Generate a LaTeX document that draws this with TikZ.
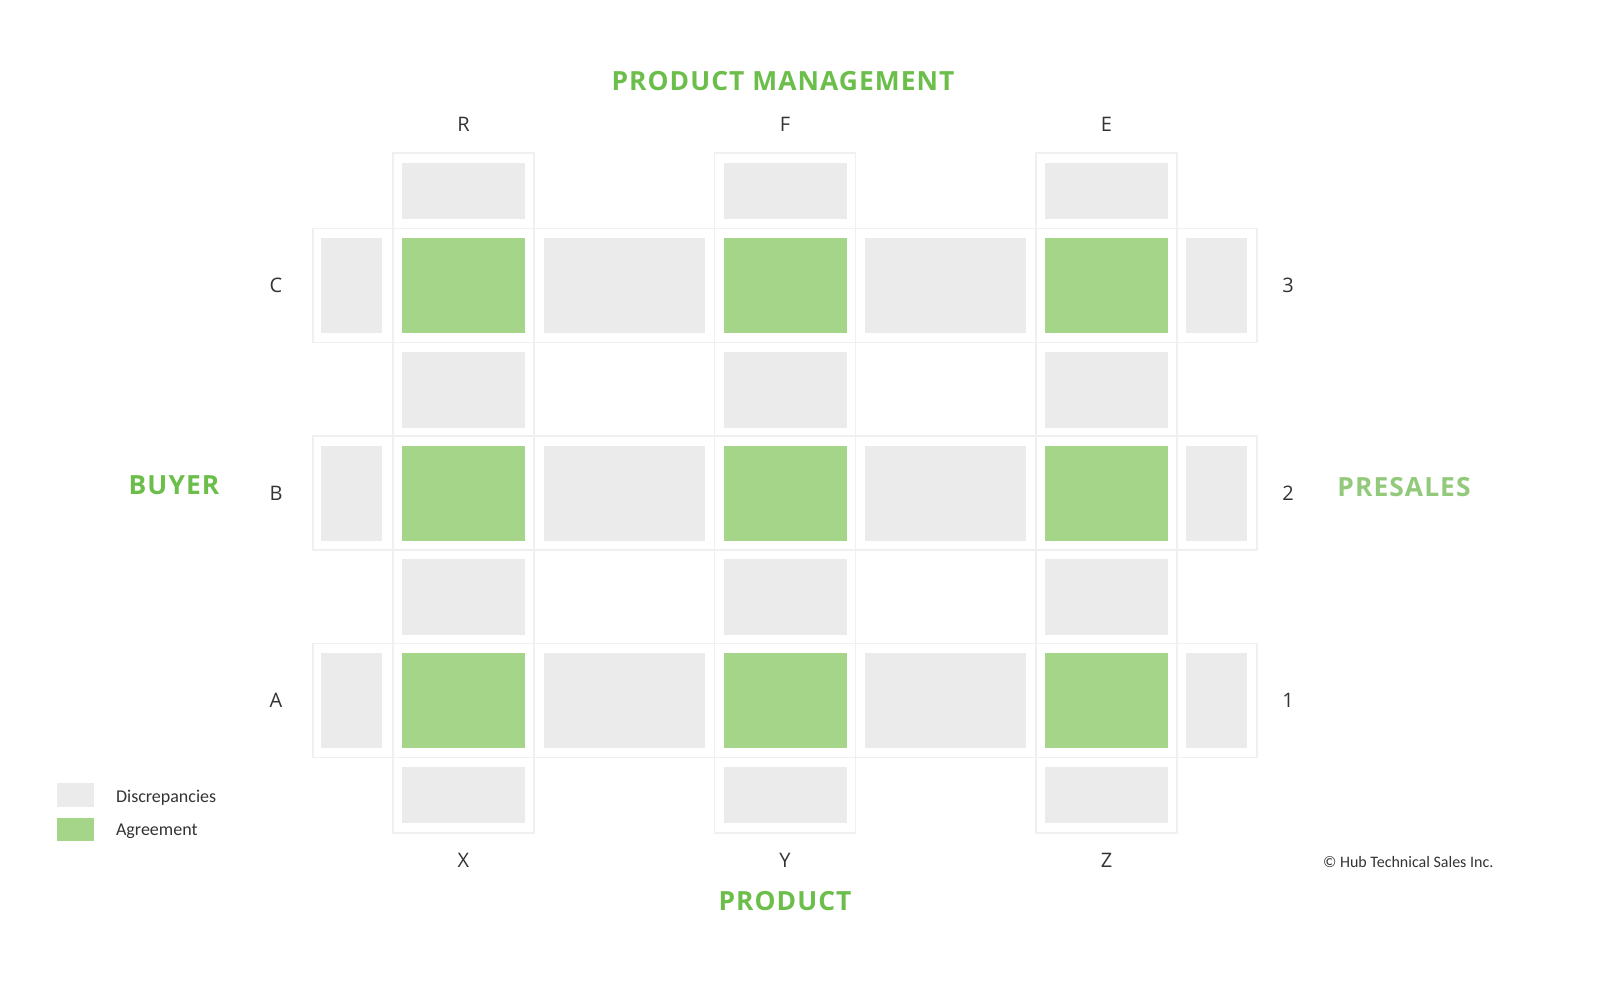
\documentclass[tikz,border=0pt]{standalone}
\usepackage{fontspec}
\setmainfont{Open Sans}
\newfontfamily\headfont[LetterSpace=4]{Open Sans}
\newfontfamily\notefont{Carlito}
\definecolor{agreegreen}{RGB}{165,213,136}
\definecolor{discgray}{RGB}{236,235,236}
\definecolor{bandline}{RGB}{240,240,240}
\definecolor{titlegreen}{RGB}{108,190,75}
\definecolor{presalesgreen}{RGB}{146,201,122}
\definecolor{labelgray}{RGB}{51,51,51}
\begin{document}
\begin{tikzpicture}[x=0.5pt, y=-0.5pt,
		band/.style = {draw=bandline, line width=0.6pt},
		agree/.style = {fill=agreegreen, inner sep=0, minimum width=61.5pt, minimum height=47.5pt},
		disc/.style = {fill=discgray, inner sep=0},
		lbl/.style = {text=labelgray, font=\fontsize{10}{12}\selectfont},
		title/.style = {text=titlegreen, font=\headfont\bfseries\fontsize{13.2}{16}\selectfont},
		note/.style = {text=labelgray, font=\notefont\fontsize{9}{11}\selectfont, anchor=west}]
				\useasboundingbox (0,0) rectangle (1600,981);
				
				% bands
				\draw[band] (393,153) rectangle (534,833);
				\draw[band] (714.5,153) rectangle (855.5,833);
				\draw[band] (1036,153) rectangle (1177,833);
				\draw[band] (313,228.5) rectangle (1257,342.5);
				\draw[band] (313,436) rectangle (1257,550);
				\draw[band] (313,643.5) rectangle (1257,757.5);
				
				% agreement
				\node[agree] (RC) at (463.5,285.5) {};
				\node[agree] (FC) at (785,285.5) {};
				\node[agree] (EC) at (1106.5,285.5) {};
				\node[agree] (RB) at (463.5,493) {};
				\node[agree] (FB) at (785,493) {};
				\node[agree] (EB) at (1106.5,493) {};
				\node[agree] (RA) at (463.5,700.5) {};
				\node[agree] (FA) at (785,700.5) {};
				\node[agree] (EA) at (1106.5,700.5) {};
				
				% discrepancies, columns
				\node[disc, minimum width=61.5pt, minimum height=28pt] (Rtop) at (463.5,191) {};
				\node[disc, minimum width=61.5pt, minimum height=28pt] (Ftop) at (785,191) {};
				\node[disc, minimum width=61.5pt, minimum height=28pt] (Etop) at (1106.5,191) {};
				\node[disc, minimum width=61.5pt, minimum height=38pt] (RCB) at (463.5,389.5) {};
				\node[disc, minimum width=61.5pt, minimum height=38pt] (FCB) at (785,389.5) {};
				\node[disc, minimum width=61.5pt, minimum height=38pt] (ECB) at (1106.5,389.5) {};
				\node[disc, minimum width=61.5pt, minimum height=38pt] (RBA) at (463.5,597) {};
				\node[disc, minimum width=61.5pt, minimum height=38pt] (FBA) at (785,597) {};
				\node[disc, minimum width=61.5pt, minimum height=38pt] (EBA) at (1106.5,597) {};
				\node[disc, minimum width=61.5pt, minimum height=28pt] (Rbot) at (463.5,795) {};
				\node[disc, minimum width=61.5pt, minimum height=28pt] (Fbot) at (785,795) {};
				\node[disc, minimum width=61.5pt, minimum height=28pt] (Ebot) at (1106.5,795) {};
				
				% discrepancies, rows
				\node[disc, minimum width=30.5pt, minimum height=47.5pt] (Cl) at (351.5,285.5) {};
				\node[disc, minimum width=80.5pt, minimum height=47.5pt] (CRF) at (624.5,285.5) {};
				\node[disc, minimum width=80.5pt, minimum height=47.5pt] (CFE) at (945.8,285.5) {};
				\node[disc, minimum width=30.5pt, minimum height=47.5pt] (Cr) at (1216,285.5) {};
				\node[disc, minimum width=30.5pt, minimum height=47.5pt] (Bl) at (351.5,493) {};
				\node[disc, minimum width=80.5pt, minimum height=47.5pt] (BRF) at (624.5,493) {};
				\node[disc, minimum width=80.5pt, minimum height=47.5pt] (BFE) at (945.8,493) {};
				\node[disc, minimum width=30.5pt, minimum height=47.5pt] (Br) at (1216,493) {};
				\node[disc, minimum width=30.5pt, minimum height=47.5pt] (Al) at (351.5,700.5) {};
				\node[disc, minimum width=80.5pt, minimum height=47.5pt] (ARF) at (624.5,700.5) {};
				\node[disc, minimum width=80.5pt, minimum height=47.5pt] (AFE) at (945.8,700.5) {};
				\node[disc, minimum width=30.5pt, minimum height=47.5pt] (Ar) at (1216,700.5) {};
				
				% labels
				\node[lbl] (R) at (463.5,124) {R};
				\node[lbl] (F) at (785,124) {F};
				\node[lbl] (E) at (1106.5,124) {E};
				\node[lbl] (X) at (463.5,860) {X};
				\node[lbl] (Y) at (785,860) {Y};
				\node[lbl] (Z) at (1106.5,860) {Z};
				\node[lbl] (C) at (276,285.5) {C};
				\node[lbl] (B) at (276,493) {B};
				\node[lbl] (A) at (276,700.5) {A};
				\node[lbl] (3) at (1288,285.5) {3};
				\node[lbl] (2) at (1288,493) {2};
				\node[lbl] (1) at (1288,700.5) {1};
				
				\node[title] (pm) at (783,81) {PRODUCT MANAGEMENT};
				\node[title] (product) at (785,901) {PRODUCT};
				\node[title] (buyer) at (174,485) {BUYER};
				\node[title, text=presalesgreen] (presales) at (1404,487) {PRESALES};
				
				% legend
				\node[disc, minimum width=18.5pt, minimum height=12pt] (kdisc) at (75.5,795) {};
				\node[agree, minimum width=18.5pt, minimum height=11.5pt] (kagree) at (75.5,829.5) {};
				\node[note] (tdisc) at (109,798) {Discrepancies};
				\node[note] (tagree) at (109,831) {Agreement};
				\node[note, font=\notefont\fontsize{8}{10}\selectfont] (copy) at (1316,862) {© Hub Technical Sales Inc.};
			\end{tikzpicture}
\end{document}
